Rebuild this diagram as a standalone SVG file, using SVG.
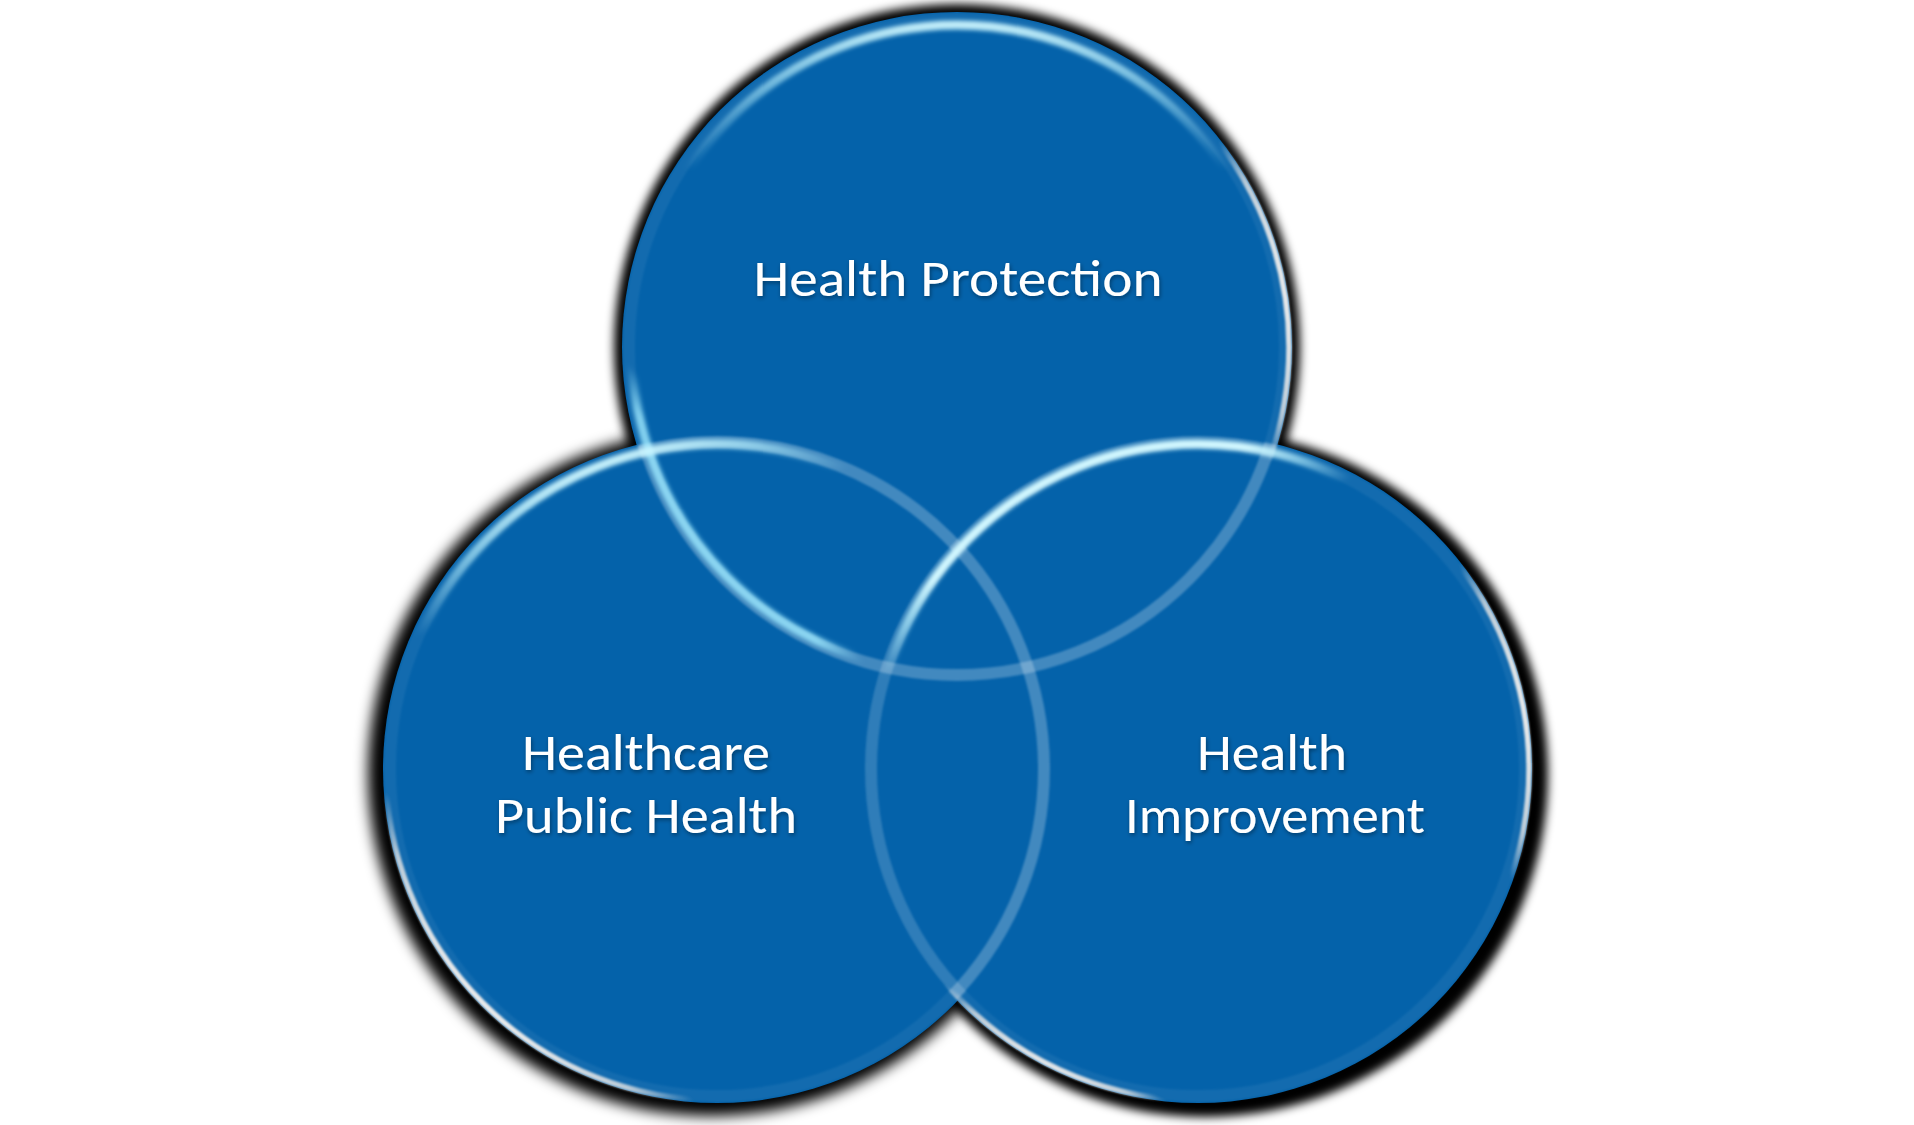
<svg xmlns="http://www.w3.org/2000/svg" width="1914" height="1125" viewBox="0 0 1914 1125">
  <defs>
    <style>
      .fill { fill: #0462AA; }
      .shadow { fill: #000; }
      .band { fill: none; stroke: #ffffff; stroke-width: 12; }
      .cyan { fill: none; stroke-width: 9; }
      .rim { fill: none; stroke-width: 5.5; }
      .label { font-family: Carlito, Calibri, Lato, "Open Sans", sans-serif; font-size: 51px; fill: #ffffff; text-anchor: middle; }
    </style>
    <filter id="shBlur" x="-20%" y="-20%" width="140%" height="140%">
      <feGaussianBlur stdDeviation="5"/>
    </filter>
    <filter id="shBlurWide" x="-20%" y="-20%" width="140%" height="140%">
      <feGaussianBlur stdDeviation="7"/>
    </filter>
    <filter id="soft" x="-10%" y="-10%" width="120%" height="120%">
      <feGaussianBlur stdDeviation="2.2"/>
    </filter>
    <filter id="softer" x="-10%" y="-10%" width="120%" height="120%">
      <feGaussianBlur stdDeviation="1"/>
    </filter>
    <filter id="txtShadow" x="-10%" y="-20%" width="120%" height="160%">
      <feGaussianBlur in="SourceAlpha" stdDeviation="2"/>
      <feOffset dx="1" dy="2" result="b"/>
      <feComponentTransfer><feFuncA type="linear" slope="0.4"/></feComponentTransfer>
      <feMerge><feMergeNode/><feMergeNode in="SourceGraphic"/></feMerge>
    </filter>

    <clipPath id="notT"><circle cx="717" cy="769" r="334"/><circle cx="1198" cy="769" r="334"/></clipPath>
    <clipPath id="notL"><circle cx="957" cy="347" r="335"/><circle cx="1198" cy="769" r="334"/></clipPath>
    <clipPath id="notR"><circle cx="957" cy="347" r="335"/><circle cx="717" cy="769" r="334"/></clipPath>

    <linearGradient id="tCyan" gradientUnits="userSpaceOnUse" x1="957" y1="170" x2="957" y2="12">
      <stop offset="0" stop-color="#b8f2ff" stop-opacity="0"/>
      <stop offset="0.55" stop-color="#b8f2ff" stop-opacity="0.6"/>
      <stop offset="1" stop-color="#d2f8ff" stop-opacity="1"/>
    </linearGradient>
    <linearGradient id="tRim" gradientUnits="userSpaceOnUse" x1="1245" y1="307" x2="1289" y2="300">
      <stop offset="0" stop-color="#e2e2e2" stop-opacity="0"/>
      <stop offset="0.45" stop-color="#e2e2e2" stop-opacity="0.8"/>
      <stop offset="1" stop-color="#ececec" stop-opacity="1"/>
    </linearGradient>
    <linearGradient id="tCyanL" gradientUnits="userSpaceOnUse" x1="642" y1="380" x2="623" y2="395">
      <stop offset="0" stop-color="#9eeaff" stop-opacity="0"/>
      <stop offset="1" stop-color="#9eeaff" stop-opacity="0.8"/>
    </linearGradient>

    <linearGradient id="lCyan" gradientUnits="userSpaceOnUse" x1="640" y1="550" x2="603" y2="455">
      <stop offset="0" stop-color="#b8f2ff" stop-opacity="0"/>
      <stop offset="0.55" stop-color="#b8f2ff" stop-opacity="0.65"/>
      <stop offset="1" stop-color="#d2f8ff" stop-opacity="1"/>
    </linearGradient>
    <linearGradient id="lRim" gradientUnits="userSpaceOnUse" x1="540" y1="946" x2="481" y2="1005">
      <stop offset="0" stop-color="#e2e2e2" stop-opacity="0"/>
      <stop offset="0.45" stop-color="#e2e2e2" stop-opacity="0.8"/>
      <stop offset="1" stop-color="#ececec" stop-opacity="1"/>
    </linearGradient>

    <linearGradient id="rCyan" gradientUnits="userSpaceOnUse" x1="1112" y1="580" x2="1085" y2="516">
      <stop offset="0" stop-color="#b8f2ff" stop-opacity="0"/>
      <stop offset="0.55" stop-color="#b8f2ff" stop-opacity="0.65"/>
      <stop offset="1" stop-color="#d2f8ff" stop-opacity="1"/>
    </linearGradient>
    <linearGradient id="rRimR" gradientUnits="userSpaceOnUse" x1="1486" y1="729" x2="1529" y2="722">
      <stop offset="0" stop-color="#e2e2e2" stop-opacity="0"/>
      <stop offset="0.45" stop-color="#e2e2e2" stop-opacity="0.8"/>
      <stop offset="1" stop-color="#ececec" stop-opacity="1"/>
    </linearGradient>
    <linearGradient id="rRimB" gradientUnits="userSpaceOnUse" x1="1053" y1="1041" x2="1041" y2="1064">
      <stop offset="0" stop-color="#e2e2e2" stop-opacity="0"/>
      <stop offset="0.45" stop-color="#e2e2e2" stop-opacity="0.8"/>
      <stop offset="1" stop-color="#ececec" stop-opacity="1"/>
    </linearGradient>
  </defs>

  <rect x="0" y="0" width="1914" height="1125" fill="#ffffff"/>

  <g id="shadows">
    <circle class="shadow" cx="957" cy="347" r="343" filter="url(#shBlur)"/>
    <circle class="shadow" cx="711" cy="773" r="343" filter="url(#shBlurWide)"/>
    <circle class="shadow" cx="1205" cy="774" r="343" filter="url(#shBlur)"/>
  </g>

  <g id="fills">
    <circle class="fill" cx="957" cy="347" r="335"/>
    <circle class="fill" cx="717" cy="769" r="334"/>
    <circle class="fill" cx="1198" cy="769" r="334"/>
  </g>

  <g id="bands" filter="url(#softer)">
    <circle class="band" cx="957" cy="347" r="328" stroke-opacity="0.06"/>
    <circle class="band" cx="717" cy="769" r="327" stroke-opacity="0.06"/>
    <circle class="band" cx="1198" cy="769" r="327" stroke-opacity="0.06"/>
    <circle class="band" cx="957" cy="347" r="328" stroke-opacity="0.2" clip-path="url(#notT)"/>
    <circle class="band" cx="717" cy="769" r="327" stroke-opacity="0.2" clip-path="url(#notL)"/>
    <circle class="band" cx="1198" cy="769" r="327" stroke-opacity="0.12" clip-path="url(#notR)"/>
  </g>

  <g id="node-top">
    <circle class="cyan" cx="957" cy="347" r="322" stroke="url(#tCyan)" filter="url(#soft)"/>
    <circle class="cyan" cx="957" cy="347" r="325" stroke="url(#tCyanL)" filter="url(#soft)"/>
    <circle class="rim" cx="957" cy="347" r="332" stroke="url(#tRim)" filter="url(#softer)"/>
    <text class="label" x="958" y="296" textLength="409" lengthAdjust="spacingAndGlyphs" filter="url(#txtShadow)">Health Protection</text>
  </g>

  <g id="node-left">
    <circle class="cyan" cx="717" cy="769" r="325" stroke="url(#lCyan)" filter="url(#soft)"/>
    <circle class="rim" cx="717" cy="769" r="331" stroke="url(#lRim)" filter="url(#softer)"/>
    <text class="label" x="646" y="770" textLength="248" lengthAdjust="spacingAndGlyphs" filter="url(#txtShadow)">Healthcare</text>
    <text class="label" x="646" y="833" textLength="302" lengthAdjust="spacingAndGlyphs" filter="url(#txtShadow)">Public Health</text>
  </g>

  <g id="node-right">
    <circle class="cyan" cx="1198" cy="769" r="325" stroke="url(#rCyan)" filter="url(#soft)"/>
    <circle class="rim" cx="1198" cy="769" r="331" stroke="url(#rRimR)" filter="url(#softer)"/>
    <circle class="rim" cx="1198" cy="769" r="331" stroke="url(#rRimB)" filter="url(#softer)"/>
    <text class="label" x="1272" y="770" textLength="150" lengthAdjust="spacingAndGlyphs" filter="url(#txtShadow)">Health</text>
    <text class="label" x="1275" y="833" textLength="300" lengthAdjust="spacingAndGlyphs" filter="url(#txtShadow)">Improvement</text>
  </g>

  <g id="connectors"></g>
</svg>
